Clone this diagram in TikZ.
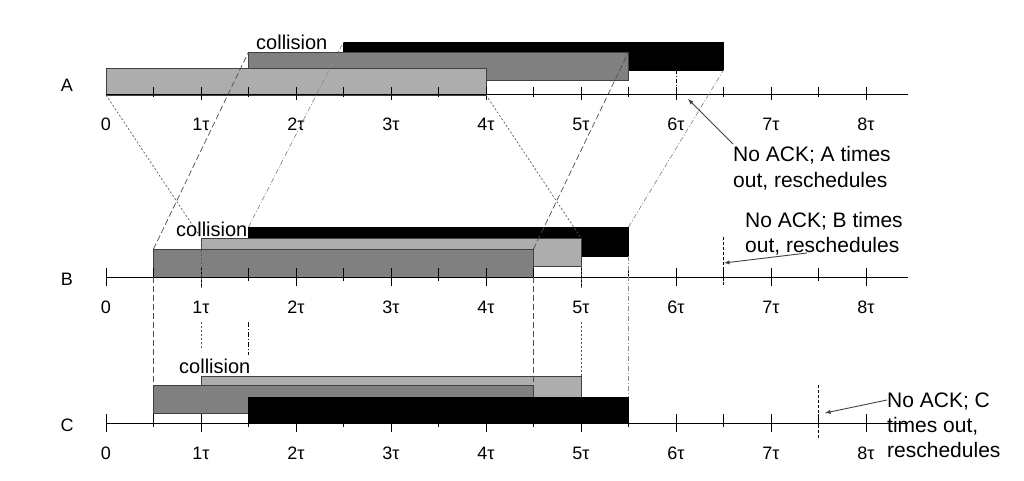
\documentclass[tikz,border=0pt]{standalone}
\usepackage{fontspec}
\setmainfont{Liberation Sans}
\begin{document}
\begin{tikzpicture}[x=1pt,y=-1pt,
  lbl/.style={font=\fontsize{18}{20}\selectfont,inner sep=0pt},
  big/.style={font=\fontsize{21}{25}\selectfont,anchor=base west,inner sep=0pt},
  col/.style={font=\fontsize{20}{22}\selectfont,anchor=base west,inner sep=0pt},
  lg/.style={fill=black!32,draw=black!75,line width=0.8pt},
  dg/.style={fill=black!50,draw=black!75,line width=0.8pt},
  bk/.style={fill=black,draw=black},
  sigA/.style={draw=black!65,line width=0.7pt,dash pattern=on 2pt off 2pt},
  sigB/.style={draw=black!70,line width=0.7pt,dash pattern=on 6pt off 3pt},
  sigC/.style={draw=black!45,line width=0.7pt,dash pattern=on 5pt off 2pt on 1pt off 2pt},
  ax/.style={line width=1pt},
  arr/.style={-latex,line width=0.9pt}]
\useasboundingbox (0,0) rectangle (1024,481);
\pgfmathsetmacro{\Ay}{95}\pgfmathsetmacro{\By}{277}\pgfmathsetmacro{\Cy}{423}
\newcommand{\tx}[1]{106+95*#1}
% ---- A bars
\fill[bk] ({\tx{2.5}},42) rectangle ({\tx{6.5}},70);
\draw[dg] ({\tx{1.5}},52) rectangle ({\tx{5.5}},80);
\draw[lg] ({\tx{0}},68) rectangle ({\tx{4}},\Ay);
% ---- B bars
\fill[bk] ({\tx{1.5}},227) rectangle ({\tx{5.5}},256);
\draw[lg] ({\tx{1}},238) rectangle ({\tx{5}},266);
\draw[dg] ({\tx{0.5}},249) rectangle ({\tx{4.5}},\By);
% ---- C bars
\draw[lg] ({\tx{1}},376) rectangle ({\tx{5}},397);
\draw[dg] ({\tx{0.5}},385) rectangle ({\tx{4.5}},413);
\fill[bk] ({\tx{1.5}},397) rectangle ({\tx{5.5}},\Cy);
% ---- axes
\foreach \yy/\nm/\ly in {\Ay/A/85,\By/B/279,\Cy/C/425}{
  \draw[ax] (106,\yy) -- (908,\yy);
  \node[lbl] (lab\nm) at (67,\ly) {\nm};
  \node[lbl,anchor=base] (z\nm) at (106,\yy+36) {0};
  \foreach \k in {1,...,8}{\node[lbl,anchor=base] (t\nm\k) at ({\tx{\k}},\yy+36) {\k τ};}
}
\foreach \k in {0.5,1,...,8}{\draw[line width=0.8pt] ({\tx{\k}},\Ay-8) -- ({\tx{\k}},\Ay+2);}
\foreach \k in {1,...,8}{\draw[line width=0.8pt] ({\tx{\k}},\Ay-8) -- ({\tx{\k}},\Ay+5);}
\foreach \yy in {\By,\Cy}{
  \foreach \k in {0,...,8}{\draw[line width=0.8pt] ({\tx{\k}},\yy-9) -- ({\tx{\k}},\yy+9);}
  \foreach \k in {0.5,1.5,...,7.5}{\draw[line width=0.8pt] ({\tx{\k}},\yy-9) -- ({\tx{\k}},\yy+4);}
}
% ---- signal coordinates
\coordinate (a0) at ({\tx{0}},\Ay); \coordinate (a4) at ({\tx{4}},\Ay);
\coordinate (b1) at ({\tx{1}},238); \coordinate (b5) at ({\tx{5}},238);
\coordinate (bB0) at ({\tx{0.5}},249); \coordinate (bB4) at ({\tx{4.5}},249);
\coordinate (aB1) at ({\tx{1.5}},52); \coordinate (aB5) at ({\tx{5.5}},52);
\coordinate (bC1) at ({\tx{1.5}},227); \coordinate (bC5) at ({\tx{5.5}},227);
\coordinate (aC2) at ({\tx{2.5}},42); \coordinate (aC6) at ({\tx{6.5}},70);
\draw[sigA] (a0) -- (b1); \draw[sigA] (a4) -- (b5);
\draw[sigB] (bB0) -- (aB1); \draw[sigB] (bB4) -- (aB5);
\draw[sigC] (bC1) -- (aC2); \draw[sigC] (bC5) -- (aC6);
% ---- verticals B to C
\coordinate (v05t) at ({\tx{0.5}},\By); \coordinate (v05b) at ({\tx{0.5}},385);
\coordinate (v45t) at ({\tx{4.5}},\By); \coordinate (v45b) at ({\tx{4.5}},385);
\draw[sigB] (v05t) -- (v05b); \draw[sigB] (v45t) -- (v45b);
\coordinate (v1a) at ({\tx{1}},238); \coordinate (v1b) at ({\tx{1}},290);
\coordinate (v1c) at ({\tx{1}},322); \coordinate (v1d) at ({\tx{1}},350);
\draw[sigA] (v1a) -- (v1b); \draw[sigA] (v1c) -- (v1d);
\coordinate (v5a) at ({\tx{5}},266); \coordinate (v5b) at ({\tx{5}},290);
\coordinate (v5c) at ({\tx{5}},322); \coordinate (v5d) at ({\tx{5}},376);
\draw[sigA] (v5a) -- (v5b); \draw[sigA] (v5c) -- (v5d);
\coordinate (v15a) at ({\tx{1.5}},322); \coordinate (v15b) at ({\tx{1.5}},355);
\draw[draw=black,line width=0.7pt,dash pattern=on 5pt off 2pt on 1pt off 2pt] (v15a) -- (v15b);
\coordinate (v55a) at ({\tx{5.5}},256); \coordinate (v55b) at ({\tx{5.5}},397);
\draw[sigC] (v55a) -- (v55b);
% ---- timeouts
\coordinate (toA1) at ({\tx{6}},70); \coordinate (toA2) at ({\tx{6}},\Ay);
\draw[line width=0.7pt,dash pattern=on 4pt off 2pt on 1pt off 2pt] (toA1) -- (toA2);
\coordinate (toB1) at ({\tx{6.5}},237); \coordinate (toB2) at ({\tx{6.5}},287);
\draw[line width=0.7pt,dash pattern=on 3pt off 2pt] (toB1) -- (toB2);
\coordinate (toC1) at ({\tx{7.5}},385); \coordinate (toC2) at ({\tx{7.5}},438);
\draw[line width=0.7pt,dash pattern=on 3pt off 2pt] (toC1) -- (toC2);
% ---- texts
\node[col] (colA) at (256,50) {collision};
\node[col] (colB) at (176,236) {collision};
\node[col] (colC) at (179,373) {collision};
\node[big] (nA1) at (733,161) {No ACK; A times};
\node[big] (nA2) at (733,187) {out, reschedules};
\node[big] (nB1) at (745,227) {No ACK; B times};
\node[big] (nB2) at (745,252) {out, reschedules};
\node[big] (nC1) at (887,407) {No ACK; C};
\node[big] (nC2) at (887,432) {times out,};
\node[big] (nC3) at (887,457) {reschedules};
\coordinate (pA) at (688,99); \coordinate (pB) at (724,263); \coordinate (pC) at (825,413);
\coordinate (qA) at (733,144); \coordinate (qB) at (807,253); \coordinate (qC) at (887,400);
\draw[arr,black!75] (qA) -- (pA);
\draw[arr,black!75] (qB) -- (pB);
\draw[arr,black!75] (qC) -- (pC);
\end{tikzpicture}
\end{document}
